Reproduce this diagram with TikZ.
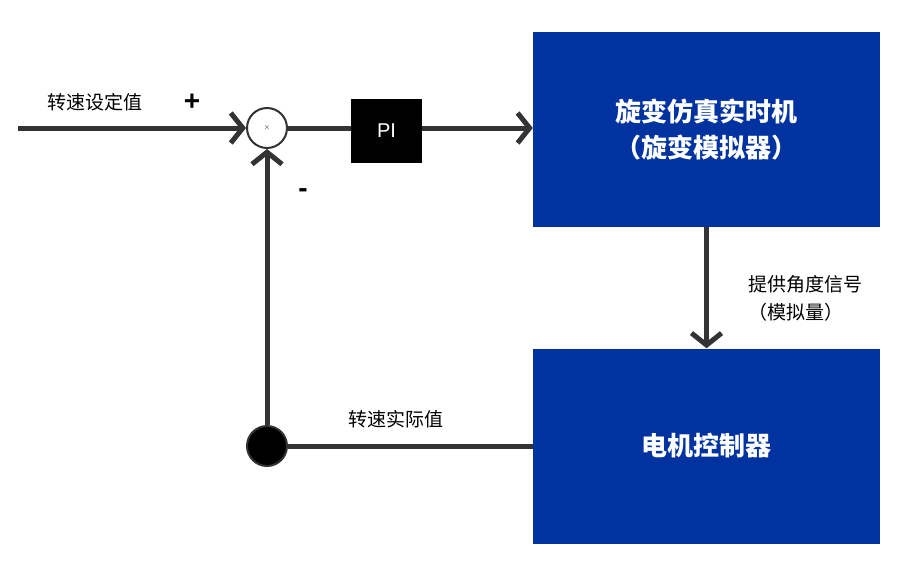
\documentclass[tikz,border=0pt]{standalone}
\usepackage{fontspec}
\setmainfont{Liberation Sans}
\newfontfamily\cjk{Noto Sans CJK SC}
\usetikzlibrary{arrows.meta}
\definecolor{boxblue}{HTML}{0033A0}
\definecolor{ln}{HTML}{333333}
\begin{document}
\begin{tikzpicture}[x=1pt,y=-1pt,
 conn/.style={draw=ln,line width=5pt},
 arr/.style={conn,-{Straight Barb[length=12pt,width=30pt,line width=5pt]}},
 blk/.style={fill=boxblue,draw=none,minimum width=347pt,minimum height=195pt,text=white,font=\cjk\bfseries\fontsize{26}{36}\selectfont,align=center},
 lbl/.style={font=\cjk\fontsize{19}{28}\selectfont,align=center}]
\useasboundingbox (0,0) rectangle (910,562);
\node[blk] (sim) at (706.5,129.5) {旋变仿真实时机\\（旋变模拟器）};
\node[blk] (ctl) at (706.5,446) {电机控制器};
\node[circle,draw=ln,line width=2pt,fill=white,minimum size=40pt,inner sep=0pt] (sum) at (267,128) {\scriptsize$\times$};
\node[circle,fill=black,draw=ln,line width=2pt,minimum size=40pt,inner sep=0pt] (dot) at (267,446) {};
\node[fill=black,text=white,minimum width=71pt,minimum height=64pt,font=\fontsize{20}{24}\selectfont] (pi) at (386.5,131) {PI};
\coordinate (in) at (18,128);
\draw[arr] (in) -- (sum.west);
\draw[conn] (sum.east) -- (sum.east -| pi.west);
\draw[arr] (pi.east |- sum.east) -- (sim.west |- sum.east);
\draw[arr] (sim.south) -- (ctl.north);
\draw[conn] (ctl.west) -- (dot.east);
\draw[arr] (dot.north) -- (sum.south);
\node[lbl] at (95,102) {转速设定值};
\node[font=\bfseries\fontsize{28}{30}\selectfont] at (192,102) {+};
\node[font=\bfseries\fontsize{28}{30}\selectfont] at (303,193) {-};
\node[lbl] at (396,419) {转速实际值};
\node[lbl,align=left,anchor=west] at (745,298) {提供角度信号\\（模拟量）};
\end{tikzpicture}
\end{document}
